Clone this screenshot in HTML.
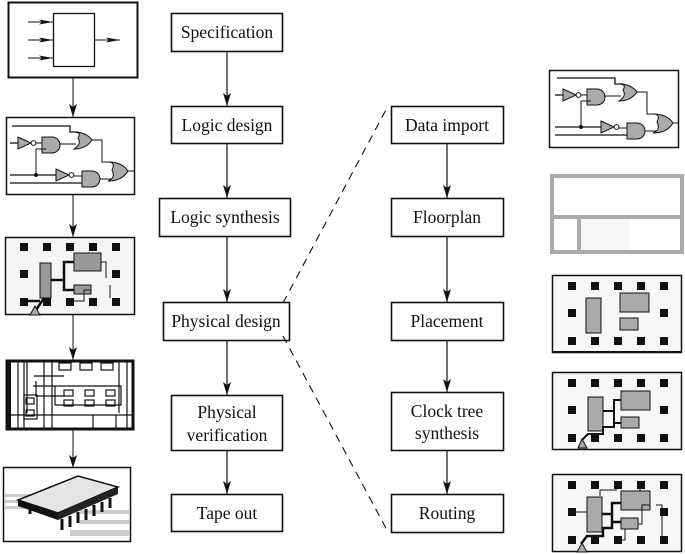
<!DOCTYPE html>
<html><head><meta charset="utf-8"><style>
body{margin:0;background:#fff}
svg{display:block}
text{font-family:"Liberation Serif",serif;font-size:17.5px;fill:#111;text-anchor:middle}
</style></head><body>
<svg width="685" height="554" viewBox="0 0 685 554" xmlns="http://www.w3.org/2000/svg">
<defs>
<marker id="a" markerWidth="13" markerHeight="8" refX="13" refY="4" orient="auto" markerUnits="userSpaceOnUse">
<path d="M0,0 L13,4 L0,8 L3,4 Z" fill="#111"/>
</marker>
<marker id="ah" markerWidth="14" markerHeight="8" refX="14" refY="4" orient="auto" markerUnits="userSpaceOnUse">
<path d="M0,1.5 L14,4 L0,6.5 L3,4Z" fill="#111"/>
</marker>
<g id="gates">
<path d="M6,8 H64 V14 H72" fill="none" stroke="#111" stroke-width="1.3"/>
<path d="M4,25 H12" stroke="#111" stroke-width="1.3"/>
<path d="M12,19 L25,25 L12,31Z" fill="#aaa" stroke="#111"/>
<circle cx="27.5" cy="25" r="2.4" fill="#fff" stroke="#111"/>
<path d="M30,25 H36" stroke="#111"/>
<path d="M36,19 H46 A7,7 0 0 1 46,35 H36Z" fill="#aaa" stroke="#111"/>
<path d="M53,26 H70" stroke="#111"/>
<path d="M40,31 H30 V56" fill="none" stroke="#111"/>
<path d="M68,14 Q76,14 72,20 Q76,26 68,31 Q80,31 86,22 Q80,14 68,14Z" fill="#aaa" stroke="#111"/>
<path d="M86,22 H96 V44 H104" fill="none" stroke="#111"/>
<path d="M4,57 H50" stroke="#111" stroke-width="1.3"/>
<circle cx="30" cy="57" r="2" fill="#111"/>
<path d="M50,51 L63,57 L50,63Z" fill="#aaa" stroke="#111"/>
<circle cx="65.5" cy="57" r="2.4" fill="#fff" stroke="#111"/>
<path d="M68,58 H76" stroke="#111"/>
<path d="M4,65 H76" stroke="#111" stroke-width="1.3"/>
<path d="M76,53 H86 A8,8 0 0 1 86,69 H76Z" fill="#aaa" stroke="#111"/>
<path d="M94,61 H106" stroke="#111"/>
<path d="M102,44 Q110,44 106,52 Q110,60 102,63 Q116,63 122,53 Q116,44 102,44Z" fill="#aaa" stroke="#111"/>
<path d="M122,53 H128" stroke="#111"/>
</g>
<g id="pads" fill="#111">
<rect x="17" y="7" width="8" height="8"/><rect x="40" y="7" width="8" height="8"/><rect x="63" y="7" width="8" height="8"/><rect x="86" y="7" width="8" height="8"/><rect x="109" y="7" width="8" height="8"/>
<rect x="17" y="34" width="8" height="8"/><rect x="109" y="34" width="8" height="8"/>
<rect x="17" y="62" width="8" height="8"/><rect x="40" y="62" width="8" height="8"/><rect x="63" y="62" width="8" height="8"/><rect x="86" y="62" width="8" height="8"/><rect x="109" y="62" width="8" height="8"/>
</g>
</defs>

<!-- Left column -->
<rect x="8.5" y="2.5" width="129" height="75" fill="#fff" stroke="#111" stroke-width="2"/>
<rect x="53.5" y="13.5" width="41" height="53" fill="#fff" stroke="#111" stroke-width="1.3"/>
<line x1="28" y1="22" x2="53" y2="22" stroke="#111" marker-end="url(#ah)"/>
<line x1="28" y1="40" x2="53" y2="40" stroke="#111" marker-end="url(#ah)"/>
<line x1="28" y1="58" x2="53" y2="58" stroke="#111" marker-end="url(#ah)"/>
<line x1="95" y1="40" x2="120" y2="40" stroke="#111" marker-end="url(#ah)"/>
<line x1="73" y1="78" x2="73" y2="117" stroke="#111" marker-end="url(#a)"/>

<rect x="6.5" y="117.5" width="128" height="77" fill="#fff" stroke="#111" stroke-width="1.5"/>
<use href="#gates" x="6" y="118"/>
<line x1="73" y1="195" x2="73" y2="237" stroke="#111" marker-end="url(#a)"/>

<rect x="5.5" y="237.5" width="129" height="77" fill="#f5f5f5" stroke="#111" stroke-width="1.5"/>
<use href="#pads" x="3" y="236"/>
<rect x="40" y="263" width="11" height="35" fill="#999" stroke="#111"/>
<rect x="74" y="253" width="27" height="18" fill="#999" stroke="#111"/>
<rect x="74" y="285" width="17" height="9" fill="#999" stroke="#111"/>
<path d="M51,280 H64 V262 H74 M64,280 V290 H74 M36,310 L44,298 M28,301 H40" stroke="#111" stroke-width="2.5" fill="none"/>
<path d="M101,262 H106 V278 M91,290 H84 V301 H74 M110,285 V298" stroke="#111" fill="none"/>
<path d="M30,315 L35,306 L40,315Z" fill="#aaa" stroke="#111"/>
<line x1="73" y1="315" x2="73" y2="360" stroke="#111" marker-end="url(#a)"/>

<rect x="7" y="361" width="126" height="68" fill="#fff" stroke="#111" stroke-width="3"/>
<rect x="7" y="361" width="4" height="68" fill="#111"/>
<g stroke="#111" fill="none" stroke-width="1.2">
<path d="M7,415 H133 M18,361 V429 M24,361 V429 M27,361 V413 M44,361 V429 M52,361 V429 M127,361 V429 M119,361 V413 M93,415 V429 M116,415 V429"/>
<path d="M34,376 H64 M33,386 H64 M35,382 H36 V396 H65 M55,405 H121 V386 H55Z"/>
<rect x="59" y="363" width="12" height="7"/><rect x="80" y="363" width="12" height="7"/><rect x="101" y="363" width="12" height="7"/>
<rect x="64" y="390" width="9" height="6"/><rect x="85" y="390" width="9" height="6"/><rect x="106" y="390" width="9" height="6"/>
<rect x="64" y="400" width="9" height="6"/><rect x="85" y="400" width="9" height="6"/><rect x="106" y="400" width="9" height="6"/>
<rect x="26" y="398" width="8" height="6"/><rect x="26" y="410" width="8" height="6"/>
<rect x="24" y="395" width="13" height="24"/>
</g>
<line x1="73" y1="430" x2="73" y2="468" stroke="#111" marker-end="url(#a)"/>

<rect x="3.5" y="467.5" width="127" height="74" fill="#fff" stroke="#111" stroke-width="1.5"/>
<g fill="#ccc"><rect x="5" y="494" width="45" height="3"/><rect x="5" y="500" width="45" height="3"/><rect x="5" y="506" width="45" height="3"/><rect x="80" y="510" width="49" height="4"/><rect x="80" y="520" width="49" height="4"/><rect x="70" y="530" width="59" height="6"/></g>
<path d="M18,500 L78,476 L118,487 L58,513Z" fill="#e5e5e5" stroke="#111" stroke-width="1.5"/>
<path d="M18,500 L58,513 L58,520 L18,506Z" fill="#111"/>
<path d="M58,513 L118,487 L118,494 L58,520Z" fill="#222"/>
<g stroke="#111" stroke-width="3"><path d="M62,519 V530 M70,516 V527 M78,512 V523 M86,509 V520 M94,505 V516 M102,502 V512 M110,498 V508 M30,509 V514"/></g>

<!-- Middle column -->
<g fill="#fff" stroke="#111" stroke-width="1.6">
<rect x="171.5" y="13.5" width="111" height="38"/>
<rect x="171.5" y="106.5" width="111" height="37"/>
<rect x="159.5" y="198.5" width="131" height="38"/>
<rect x="163.5" y="302.5" width="126" height="38"/>
<rect x="171.5" y="395.5" width="111" height="55"/>
<rect x="171.5" y="494.5" width="111" height="37"/>
</g>
<g stroke="#111" stroke-width="1.2">
<line x1="227" y1="52" x2="227" y2="106" marker-end="url(#a)"/>
<line x1="227" y1="144" x2="227" y2="198" marker-end="url(#a)"/>
<line x1="227" y1="237" x2="227" y2="302" marker-end="url(#a)"/>
<line x1="227" y1="341" x2="227" y2="395" marker-end="url(#a)"/>
<line x1="227" y1="451" x2="227" y2="494" marker-end="url(#a)"/>
</g>
<text x="227" y="38">Specification</text>
<text x="227" y="131">Logic design</text>
<text x="225" y="223">Logic synthesis</text>
<text x="226" y="327">Physical design</text>
<text x="227" y="418">Physical</text>
<text x="227" y="441">verification</text>
<text x="227" y="519">Tape out</text>

<!-- dashed -->
<g stroke="#111" stroke-width="1.1" stroke-dasharray="8,6">
<line x1="283" y1="303" x2="388" y2="106"/>
<line x1="283" y1="336" x2="388" y2="532"/>
</g>

<!-- Right flow -->
<g fill="#fff" stroke="#111" stroke-width="1.6">
<rect x="391.5" y="106.5" width="112" height="37"/>
<rect x="391.5" y="198.5" width="112" height="38"/>
<rect x="391.5" y="302.5" width="112" height="38"/>
<rect x="391.5" y="392.5" width="112" height="58"/>
<rect x="391.5" y="494.5" width="112" height="38"/>
</g>
<g stroke="#111" stroke-width="1.2">
<line x1="447" y1="144" x2="447" y2="198" marker-end="url(#a)"/>
<line x1="447" y1="237" x2="447" y2="302" marker-end="url(#a)"/>
<line x1="447" y1="341" x2="447" y2="392" marker-end="url(#a)"/>
<line x1="447" y1="451" x2="447" y2="494" marker-end="url(#a)"/>
</g>
<text x="447" y="131">Data import</text>
<text x="447" y="223">Floorplan</text>
<text x="447" y="327">Placement</text>
<text x="447" y="417">Clock tree</text>
<text x="447" y="439">synthesis</text>
<text x="447" y="519">Routing</text>

<!-- Right images -->
<rect x="549.5" y="70.5" width="129" height="77" fill="#fff" stroke="#111" stroke-width="1.5"/>
<use href="#gates" x="551" y="70"/>

<rect x="552" y="176" width="130" height="76" fill="#fff" stroke="#aaa" stroke-width="4"/>
<line x1="551" y1="217" x2="683" y2="217" stroke="#aaa" stroke-width="4"/>
<line x1="579" y1="217" x2="579" y2="252" stroke="#aaa" stroke-width="4"/>
<rect x="582" y="219" width="48" height="31" fill="#f7f7f7"/>

<rect x="552.5" y="275.5" width="129" height="77" fill="#f7f7f7" stroke="#111" stroke-width="1.5"/>
<use href="#pads" x="551" y="275"/>
<rect x="586" y="298" width="15" height="35" fill="#aaa" stroke="#111"/>
<rect x="620" y="293" width="29" height="19" fill="#aaa" stroke="#111"/>
<rect x="620" y="318" width="18" height="12" fill="#aaa" stroke="#111"/>
<rect x="552" y="351" width="130" height="2" fill="#111"/>

<rect x="552.5" y="372.5" width="129" height="77" fill="#f7f7f7" stroke="#111" stroke-width="1.5"/>
<use href="#pads" x="551" y="372"/>
<rect x="588" y="397" width="15" height="34" fill="#aaa" stroke="#111"/>
<rect x="621" y="391" width="29" height="19" fill="#aaa" stroke="#111"/>
<rect x="621" y="417" width="18" height="11" fill="#aaa" stroke="#111"/>
<path d="M603,411 H614 V400 H621 M614,411 V423 H621 M614,423 V427 L603,427 V434 H588 L582,440" stroke="#111" stroke-width="2" fill="none"/>
<path d="M578,448 L582,439 L587,448Z" fill="#aaa" stroke="#111"/>

<rect x="552.5" y="474.5" width="129" height="77" fill="#f7f7f7" stroke="#111" stroke-width="1.5"/>
<use href="#pads" x="551" y="474"/>
<rect x="587" y="497" width="15" height="35" fill="#aaa" stroke="#111"/>
<rect x="621" y="491" width="29" height="19" fill="#aaa" stroke="#111"/>
<rect x="621" y="518" width="17" height="11" fill="#aaa" stroke="#111"/>
<path d="M602,514 H612 V503 H621 M612,514 V522 H621 M612,522 V528 H603 V536 H587 L581,544" stroke="#111" stroke-width="2.5" fill="none"/>
<path d="M572,512 H587 M638,524 H642 V505 H650 M656,505 H662 V540 H666 M625,529 V540 H616 M640,487 V491 M600,496 V490 H617" stroke="#111" fill="none"/>
<path d="M577,552 L582,543 L587,552Z" fill="#aaa" stroke="#111"/>
</svg>
</body></html>
